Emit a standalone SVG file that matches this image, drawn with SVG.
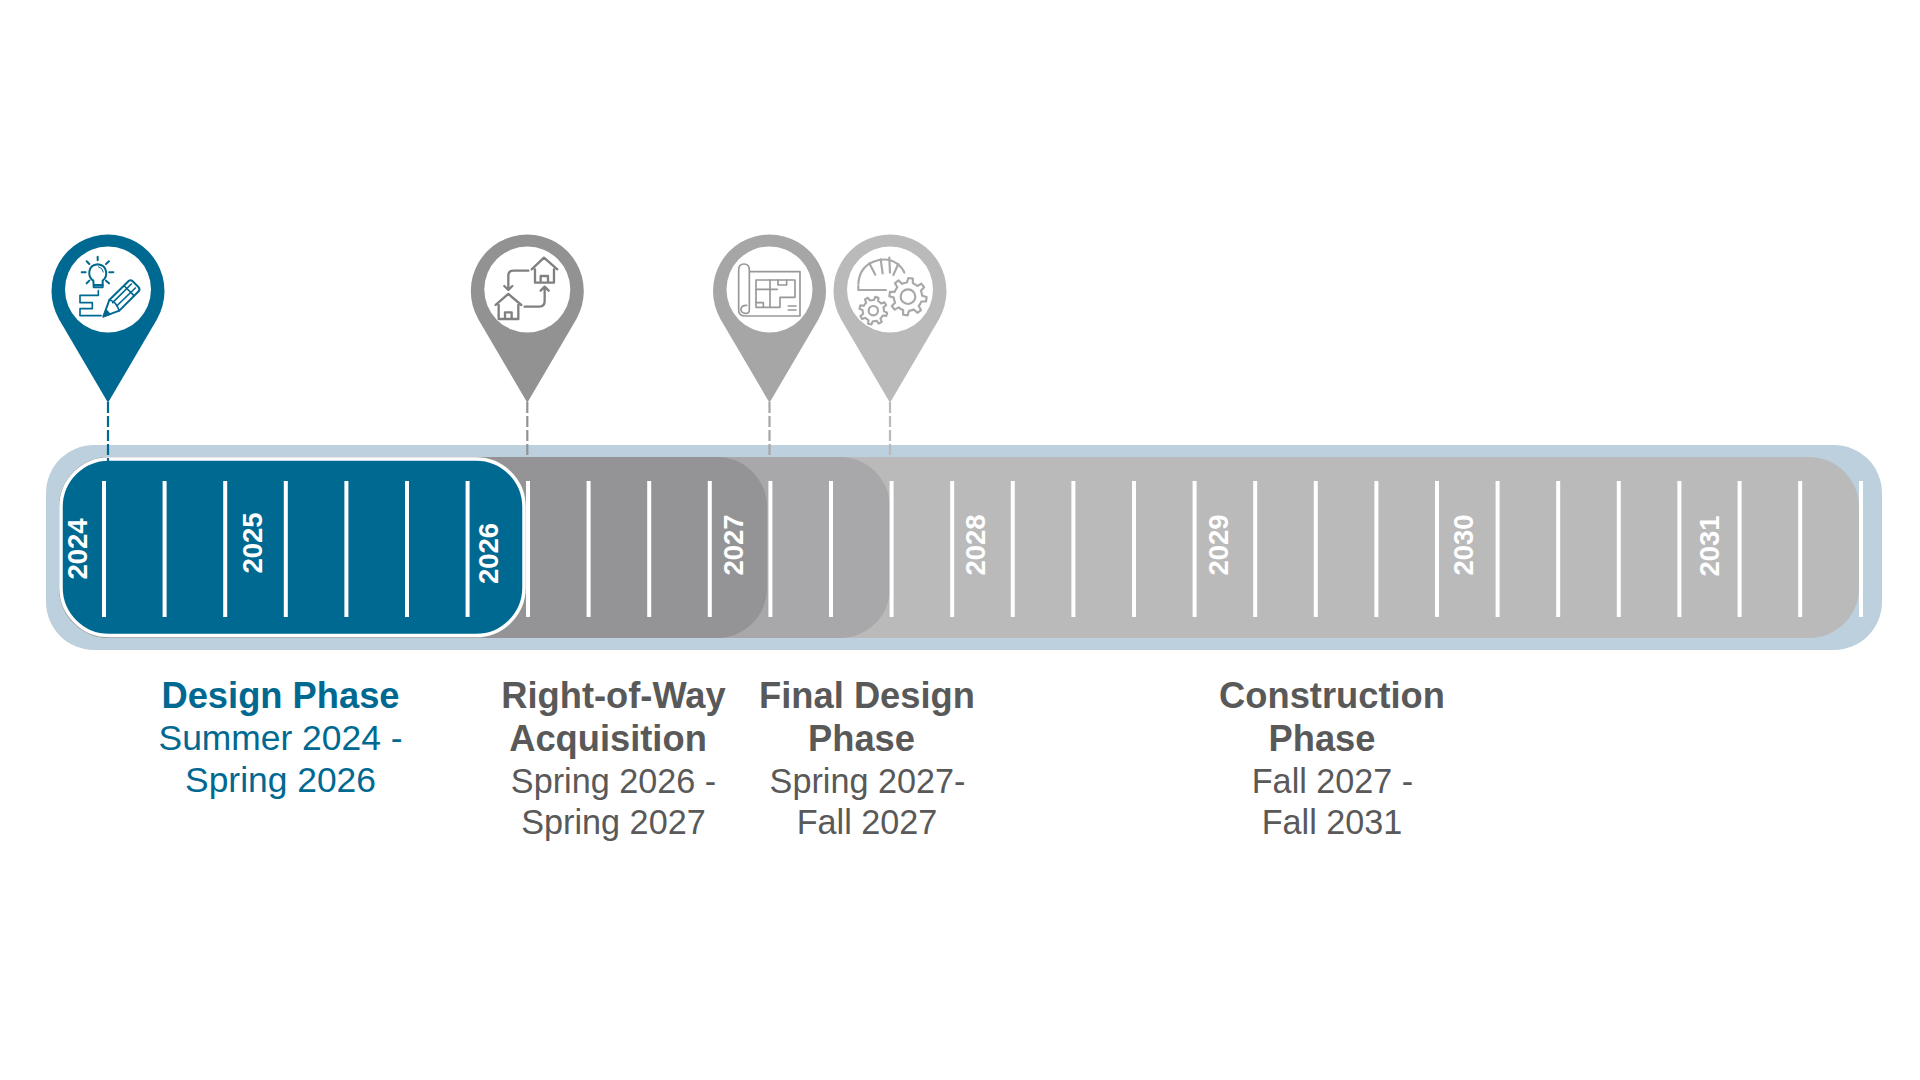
<svg xmlns="http://www.w3.org/2000/svg" width="1920" height="1080" viewBox="0 0 1920 1080">
<style>
text{font-family:"Liberation Sans",Arial,sans-serif;text-anchor:middle}
.yr{font-size:27.5px;font-weight:700;fill:#fff}
.h{font-size:36.3px;font-weight:700}
.s{font-size:34.2px}
.blue .s{font-size:35.4px}
.blue{fill:#006991}
.grey{fill:#595959}
.tick{stroke:#fff;stroke-width:4;fill:none}
.dash{stroke-width:2.2;stroke-dasharray:11 3;fill:none}
.ico{fill:none;stroke-linecap:round;stroke-linejoin:round}
</style>
<defs>
<path id="pin" d="M0 111.5L-49 28A56.5 56.5 0 1 1 49 28Z"/>
</defs>
<rect width="1920" height="1080" fill="#fff"/>
<g id="timeline">
<rect x="46" y="445" width="1836" height="205" rx="48" fill="#bdd0dd"/>
<rect x="59" y="457" width="1800" height="181" rx="50" fill="#bababa"/>
<rect x="59" y="457" width="831" height="181" rx="50" fill="#a8a8aa"/>
<rect x="59" y="457" width="708" height="181" rx="50" fill="#949496"/>
</g>
<g id="ticks" class="tick">
<path d="M528 481V617M588.6 481V617M649.2 481V617M709.8 481V617M770.4 481V617M831 481V617M891.6 481V617M952.2 481V617M1012.8 481V617M1073.4 481V617M1134 481V617M1194.6 481V617M1255.2 481V617M1315.8 481V617M1376.4 481V617M1437 481V617M1497.6 481V617M1558.2 481V617M1618.8 481V617M1679.4 481V617M1739.6 481V617M1800.2 481V617M1861 481V617"/>
</g>
<g id="design-bar">
<rect x="61" y="459" width="463" height="176.6" rx="48" fill="#006991" stroke="#fff" stroke-width="3.5"/>
<path class="tick" d="M104 481V617M164.6 481V617M225.2 481V617M285.8 481V617M346.4 481V617M407 481V617M467.6 481V617"/>
</g>
<g id="connectors">
<path class="dash" stroke="#006991" d="M108 402V461"/>
<path class="dash" stroke="#929292" d="M527.3 402V456"/>
<path class="dash" stroke="#a6a6a6" d="M769.5 402V456"/>
<path class="dash" stroke="#bababa" d="M890 402V456"/>
</g>
<g id="years" class="yr">
<text transform="translate(87 549) rotate(-90)">2024</text>
<text transform="translate(262 543) rotate(-90)">2025</text>
<text transform="translate(497.5 553.5) rotate(-90)">2026</text>
<text transform="translate(743 545) rotate(-90)">2027</text>
<text transform="translate(984.8 545) rotate(-90)">2028</text>
<text transform="translate(1227.5 545) rotate(-90)">2029</text>
<text transform="translate(1472.5 545) rotate(-90)">2030</text>
<text transform="translate(1718.5 546) rotate(-90)">2031</text>
</g>
<g id="pin-design">
<use href="#pin" x="108" y="291.2" fill="#006991"/>
<circle cx="108" cy="289.5" r="43" fill="#fff"/>
<g class="ico" stroke="#006991" stroke-width="5" transform="translate(30 220) scale(.3333)">
<path stroke-width="6" d="M190 182C172 170 172 136 203 133C234 136 234 170 218 182L218 195L191 195Z"/>
<path stroke-width="6" d="M191 195H218V202H191Z"/>
<path stroke-width="3" d="M205 140Q218 143 220 156"/>
<path stroke-width="6" d="M203 110V121M238 157H250M155 157H167M170 124L178 132M237 124L228 132M170 190L178 182M237 190L228 182"/>
<path d="M205 212V226H150V248H187V266H150V287H213"/>
<path stroke-width="6" d="M220 290L238 240L296 183Q302 178 308 184L326 202Q331 208 326 214L268 272Z"/>
<path stroke-width="5" d="M238 240Q258 244 268 272M248 248L304 192M260 258L316 204M283 198L312 227"/>
<path fill="#006991" stroke-width="3" d="M221 289L228 268L241 282Z"/>
</g>
</g>
<g id="pin-row">
<use href="#pin" x="527.3" y="291.2" fill="#929292"/>
<circle cx="527.3" cy="289.5" r="43" fill="#fff"/>
<g class="ico" stroke="#808082" stroke-width="7" transform="translate(450 220) scale(.3333)">
<path d="M245 148L282 113L322 148M255 148V188H312V148M272 188V168H294V188"/>
<path d="M137 255L175 222L214 255M146 255V297H205V255M165 297V277H185V297"/>
<path d="M235 152H190Q175 152 175 167V208M163 198L175 210L187 198"/>
<path d="M224 260H268Q284 260 284 244V203M272 212L284 200L296 212"/>
</g>
</g>
<g id="pin-final">
<use href="#pin" x="769.5" y="291.2" fill="#a6a6a6"/>
<circle cx="769.5" cy="289.5" r="43" fill="#fff"/>
<g class="ico" stroke="#989899" stroke-width="5" transform="translate(690 220) scale(.3333)">
<path d="M178 155H330V288H165Q146 288 146 270V150Q146 132 162 132Q178 132 178 150V270Q178 282 165 280Q152 278 153 266Q156 255 170 256"/>
<path d="M198 180H315V232H270V262H198Z"/>
<path d="M198 208H262M240 180V262M264 180V195H290V180M198 248H220V262"/>
<path d="M295 258H318M295 270H318"/>
</g>
</g>
<g id="pin-construction">
<use href="#pin" x="890" y="291.2" fill="#bababa"/>
<circle cx="890" cy="289.5" r="43" fill="#fff"/>
<g class="ico" stroke="#a8a8aa" stroke-width="6.5" transform="translate(690 220) scale(.3333)">
<path d="M505 192Q508 142 550 125Q590 110 620 130Q638 143 643 158"/>
<path d="M505 210H588M505 198V210"/>
<path d="M538 130L556 164M572 118L578 160M598 113L600 158M625 132L610 165"/>
<path transform="translate(654 230) scale(.56) rotate(8)" stroke-width="11.5" d="M74.3 -15.8L99.3 -12.2L99.3 12.2L74.3 15.8A76 76 0 0 1 63.7 41.4L78.9 61.6L61.6 78.9L41.4 63.7A76 76 0 0 1 15.8 74.3L12.2 99.3L-12.2 99.3L-15.8 74.3A76 76 0 0 1 -41.4 63.7L-61.6 78.9L-78.9 61.6L-63.7 41.4A76 76 0 0 1 -74.3 15.8L-99.3 12.2L-99.3 -12.2L-74.3 -15.8A76 76 0 0 1 -63.7 -41.4L-78.9 -61.6L-61.6 -78.9L-41.4 -63.7A76 76 0 0 1 -15.8 -74.3L-12.2 -99.3L12.2 -99.3L15.8 -74.3A76 76 0 0 1 41.4 -63.7L61.6 -78.9L78.9 -61.6L63.7 -41.4A76 76 0 0 1 74.3 -15.8Z"/>
<circle cx="654" cy="230" r="22"/>
<path transform="translate(550 272) scale(.42) rotate(15)" stroke-width="15" d="M74.3 -15.8L99.3 -12.2L99.3 12.2L74.3 15.8A76 76 0 0 1 63.7 41.4L78.9 61.6L61.6 78.9L41.4 63.7A76 76 0 0 1 15.8 74.3L12.2 99.3L-12.2 99.3L-15.8 74.3A76 76 0 0 1 -41.4 63.7L-61.6 78.9L-78.9 61.6L-63.7 41.4A76 76 0 0 1 -74.3 15.8L-99.3 12.2L-99.3 -12.2L-74.3 -15.8A76 76 0 0 1 -63.7 -41.4L-78.9 -61.6L-61.6 -78.9L-41.4 -63.7A76 76 0 0 1 -15.8 -74.3L-12.2 -99.3L12.2 -99.3L15.8 -74.3A76 76 0 0 1 41.4 -63.7L61.6 -78.9L78.9 -61.6L63.7 -41.4A76 76 0 0 1 74.3 -15.8Z"/>
<circle cx="550" cy="272" r="14"/>
</g>
</g>
<g id="label-design" class="blue">
<text class="h" x="280.5" y="708.3">Design Phase</text>
<text class="s" x="280.5" y="749.8">Summer 2024 -</text>
<text class="s" x="280.5" y="792">Spring 2026</text>
</g>
<g id="label-row" class="grey">
<text class="h" x="613.5" y="708.3">Right-of-Way</text>
<text class="h" x="608" y="751">Acquisition</text>
<text class="s" x="613.5" y="793">Spring 2026 -</text>
<text class="s" x="613.5" y="833.8">Spring 2027</text>
</g>
<g id="label-final" class="grey">
<text class="h" x="867" y="708.3">Final Design</text>
<text class="h" x="861.5" y="751">Phase</text>
<text class="s" x="867.5" y="793">Spring 2027-</text>
<text class="s" x="867" y="833.8">Fall 2027</text>
</g>
<g id="label-construction" class="grey">
<text class="h" x="1332" y="708.3">Construction</text>
<text class="h" x="1322" y="751">Phase</text>
<text class="s" x="1332.5" y="793">Fall 2027 -</text>
<text class="s" x="1332" y="833.8">Fall 2031</text>
</g>
</svg>
